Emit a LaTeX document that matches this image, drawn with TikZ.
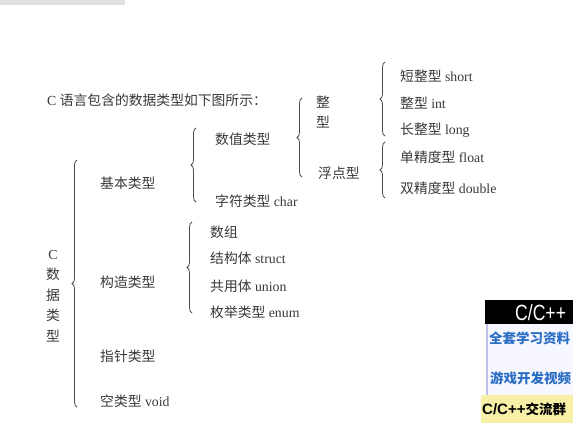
\documentclass[tikz,border=0pt]{standalone}
\usepackage{fontspec}
\setmainfont{Liberation Serif}
\newfontfamily\cjk{Noto Sans CJK SC}
\newfontfamily\adfont{Liberation Sans}
\usetikzlibrary{decorations.pathreplacing}

\newcommand{\zh}[1]{{\cjk #1}}

\definecolor{adblue}{HTML}{2A6DC4}
\definecolor{adyellow}{HTML}{F7F0A6}

\tikzset{
  label/.style={anchor=west, inner sep=0pt, text=black!78,
    font=\fontsize{13.8}{16}\selectfont},
  stack/.style={inner sep=0pt, text=black!78, align=center,
    font=\fontsize{13.8}{20.5}\selectfont},
  curly/.style={draw=black!70, thick, decorate,
    decoration={brace, amplitude=5pt}},
  adtext/.style={anchor=west, inner sep=0pt,
    font=\bfseries\fontsize{13.5}{15}\selectfont},
}

\begin{document}
\begin{tikzpicture}[x=1pt, y=-1pt]
\useasboundingbox (0,0) rectangle (573,427);
\fill[black!12] (0,0) rectangle (125,5);

\node (title) at (47, 100) [label] {C \zh{语言包含的数据类型如下图所示：}};

% level 1
\node (ctype) at (53, 296) [stack] {C\\\zh{数}\\\zh{据}\\\zh{类}\\\zh{型}};
\node (basic) at (100, 183) [label] {\zh{基本类型}};
\node (struct) at (100, 282) [label] {\zh{构造类型}};
\node (pointer) at (100, 356) [label] {\zh{指针类型}};
\node (void) at (100, 401) [label] {\zh{空类型} void};

% level 2
\node (numeric) at (215, 139) [label] {\zh{数值类型}};
\node (char) at (215, 201) [label] {\zh{字符类型} char};
\node (array) at (210, 232) [label] {\zh{数组}};
\node (record) at (210, 258) [label] {\zh{结构体} struct};
\node (union) at (210, 286) [label] {\zh{共用体} union};
\node (enum) at (210, 312) [label] {\zh{枚举类型} enum};

% level 3
\node (integer) at (323, 112) [stack] {\zh{整}\\\zh{型}};
\node (floating) at (318, 173) [label] {\zh{浮点型}};

% level 4
\node (short) at (400, 76) [label] {\zh{短整型} short};
\node (int) at (400, 103) [label] {\zh{整型} int};
\node (long) at (400, 130) [label] {\zh{长整型} long};
\node (single) at (400, 157) [label] {\zh{单精度型} float};
\node (double) at (400, 188) [label] {\zh{双精度型} double};

% braces
\coordinate (cbot) at (77, 407);
\coordinate (ctop) at (77, 160);
\coordinate (bbot) at (196, 202);
\coordinate (btop) at (196, 128);
\coordinate (sbot) at (192, 313);
\coordinate (stop) at (192, 222);
\coordinate (nbot) at (302, 177);
\coordinate (ntop) at (302, 98);
\coordinate (ibot) at (385, 136);
\coordinate (itop) at (385, 62);
\coordinate (fbot) at (385, 198);
\coordinate (ftop) at (385, 142);

\draw [curly] (cbot) -- (ctop);
\draw [curly] (bbot) -- (btop);
\draw [curly] (sbot) -- (stop);
\draw [curly] (nbot) -- (ntop);
\draw [curly] (ibot) -- (itop);
\draw [curly] (fbot) -- (ftop);

% overlay box
\begin{scope}
  \fill[blue!3] (486,324) rectangle (573,395);
  \fill[black!30!blue!25] (486,324) rectangle (488,395);
  \fill[black] (485,300) rectangle (573,324);
  \fill[adyellow] (481,395) rectangle (573,423);
  \node (adtitle) at (515, 312.5) [anchor=west, inner sep=0pt, text=white,
    xscale=0.8, font=\adfont\fontsize{22}{24}\selectfont] {C/C++};
  \node (adfirst) at (489, 338) [adtext, text=adblue] {\zh{全套学习资料}};
  \node (adsecond) at (490, 378) [adtext, text=adblue] {\zh{游戏开发视频}};
  \node (adgroup) at (482, 409) [adtext, text=black]
    {{\adfont\fontsize{15}{16}\selectfont C/C++}\zh{交流群}};
\end{scope}
\end{tikzpicture}
\end{document}
